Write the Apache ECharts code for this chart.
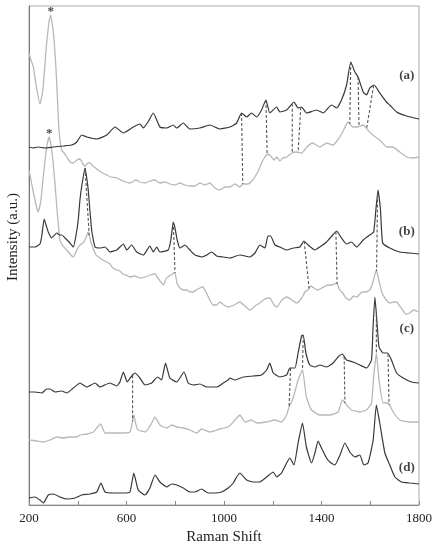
<!DOCTYPE html>
<html><head><meta charset="utf-8">
<script src="https://cdn.jsdelivr.net/npm/echarts@6/dist/echarts.min.js"></script>
<style>html,body{margin:0;padding:0;background:#fff}#c{width:443px;height:550px}</style>
</head><body><div id="c"></div>
<script>
// [Raman shift, intensity (a.u.)]
var traceADark = [[200,358],[216,357],[237,358],[266,357],[300,358],[341,359],[375,360],[396,363],[416,370],[437,368],[478,366],[519,370],[553,378],[587,372],[628,378],[655,381],[669,377],[688,383],[710,392],[737,378],[765,377],[792,380],[806,377],[833,382],[860,376],[901,377],[942,380],[983,376],[1024,378],[1052,382],[1072,392],[1093,388],[1113,392],[1134,388],[1154,395],[1172,405],[1188,392],[1216,398],[1229,393],[1257,395],[1287,403],[1304,397],[1318,398],[1339,392],[1380,395],[1407,392],[1441,400],[1462,397],[1482,405],[1503,420],[1520,443],[1537,433],[1550,428],[1571,413],[1585,410],[1598,417],[1616,420],[1639,412],[1666,403],[1680,400],[1708,393],[1749,389],[1800,386]];
var traceAGray = [[200,452],[208,445],[218,438],[229,420],[245,401],[257,415],[270,455],[282,483],[289,490],[296,480],[303,465],[311,435],[317,405],[323,375],[334,355],[344,352],[355,348],[368,343],[382,342],[396,345],[409,346],[421,341],[430,339],[442,342],[450,342],[462,339],[478,336],[495,333],[519,330],[536,328],[560,327],[585,324],[614,322],[639,325],[655,323],[676,322],[696,324],[717,325],[737,322],[758,323],[778,321],[799,320],[819,322],[840,320],[860,319],[881,319],[901,322],[922,320],[942,322],[963,317],[983,315],[1004,318],[1024,318],[1045,321],[1065,318],[1077,321],[1098,321],[1118,325],[1134,331],[1139,333],[1154,342],[1168,348],[1180,351],[1192,349],[1205,345],[1217,348],[1229,344],[1241,347],[1258,348],[1278,352],[1299,353],[1319,352],[1340,358],[1364,362],[1393,358],[1422,362],[1446,360],[1467,365],[1487,373],[1509,383],[1528,378],[1549,378],[1571,380],[1590,375],[1610,370],[1639,365],[1668,358],[1692,358],[1721,353],[1750,348],[1774,347],[1800,348]];
var traceBDark = [[200,258],[225,258],[245,261],[253,270],[262,286],[270,280],[279,273],[293,267],[314,272],[327,270],[334,270],[348,267],[368,262],[382,258],[393,270],[402,285],[409,305],[417,320],[430,337],[438,325],[443,315],[457,275],[471,258],[491,257],[512,258],[532,253],[560,255],[573,258],[587,261],[601,255],[621,260],[642,253],[669,250],[696,259],[710,253],[724,258],[737,253],[771,255],[782,265],[792,283],[799,277],[808,265],[819,257],[840,260],[860,255],[881,250],[908,248],[929,250],[949,253],[970,249],[997,248],[1024,247],[1065,250],[1106,248],[1127,252],[1147,260],[1168,257],[1180,269],[1191,269],[1209,260],[1229,258],[1257,255],[1284,257],[1311,258],[1328,264],[1345,260],[1373,255],[1393,258],[1421,263],[1446,270],[1462,274],[1482,267],[1503,261],[1523,263],[1544,258],[1571,265],[1598,270],[1614,273],[1623,295],[1632,315],[1642,295],[1651,262],[1680,257],[1721,253],[1762,252],[1800,251]];
var traceBGray = [[200,335],[208,325],[216,315],[229,300],[238,293],[249,305],[257,325],[266,345],[274,360],[283,368],[290,360],[298,345],[307,320],[315,295],[327,265],[339,259],[355,255],[368,251],[382,248],[396,255],[409,260],[421,262],[430,265],[443,273],[450,267],[458,260],[475,250],[491,247],[503,245],[519,243],[532,241],[544,237],[560,235],[573,234],[585,231],[598,230],[614,228],[635,229],[655,227],[676,228],[696,230],[717,231],[729,227],[741,223],[751,220],[762,226],[770,228],[782,230],[794,232],[799,232],[807,222],[819,217],[833,215],[848,215],[860,213],[873,213],[885,215],[901,217],[913,218],[926,213],[942,205],[954,200],[970,200],[983,203],[1000,200],[1017,198],[1041,200],[1065,203],[1086,199],[1106,195],[1127,199],[1147,202],[1168,206],[1188,207],[1205,200],[1217,198],[1237,205],[1258,208],[1278,205],[1299,202],[1319,207],[1332,213],[1344,215],[1356,219],[1369,217],[1385,215],[1401,217],[1426,220],[1442,220],[1462,222],[1475,215],[1487,212],[1500,207],[1516,205],[1532,209],[1545,208],[1557,211],[1569,213],[1582,213],[1598,215],[1610,222],[1625,235],[1635,225],[1647,213],[1660,207],[1680,202],[1696,203],[1709,203],[1721,199],[1733,195],[1746,191],[1762,192],[1778,195],[1800,193]];
var traceCDark = [[200,113],[225,113],[252,112],[273,116],[286,116],[307,113],[334,114],[355,112],[382,117],[409,122],[437,118],[471,122],[491,118],[532,122],[560,119],[573,123],[587,133],[603,123],[621,129],[635,132],[655,127],[676,120],[703,122],[728,128],[744,125],[760,142],[778,127],[806,123],[836,133],[853,122],[874,120],[901,121],[929,118],[970,118],[997,122],[1017,125],[1024,127],[1045,125],[1079,128],[1120,129],[1154,130],[1175,135],[1188,142],[1202,132],[1229,128],[1257,130],[1270,137],[1291,137],[1304,152],[1318,169],[1325,170],[1336,152],[1352,140],[1373,138],[1393,140],[1421,138],[1448,142],[1468,148],[1486,151],[1503,145],[1530,143],[1557,140],[1585,137],[1605,145],[1611,175],[1619,208],[1627,185],[1636,158],[1653,152],[1671,152],[1687,145],[1708,132],[1735,127],[1769,123],[1800,122]];
var traceCGray = [[200,65],[232,64],[259,63],[286,65],[314,68],[341,67],[368,68],[396,68],[409,70],[437,71],[464,73],[478,77],[494,81],[505,75],[512,72],[546,72],[587,72],[614,73],[622,80],[630,90],[639,80],[648,75],[676,73],[699,80],[717,88],[737,80],[765,77],[785,80],[806,78],[833,77],[860,75],[888,72],[908,76],[942,73],[983,76],[1017,78],[1038,83],[1052,87],[1065,90],[1086,83],[1113,85],[1134,82],[1175,83],[1209,85],[1236,83],[1257,90],[1267,98],[1284,107],[1304,125],[1322,135],[1338,108],[1359,95],[1393,90],[1434,90],[1468,93],[1486,105],[1503,100],[1523,95],[1557,93],[1585,95],[1605,102],[1614,128],[1625,152],[1636,125],[1653,102],[1673,102],[1694,93],[1721,85],[1762,83],[1800,83]];
var traceDDark = [[200,7],[225,8],[245,5],[259,2],[279,10],[300,11],[327,8],[355,6],[389,7],[416,10],[450,11],[478,13],[495,22],[512,13],[546,12],[587,12],[614,13],[630,32],[648,15],[676,10],[696,17],[717,30],[737,23],[765,18],[785,21],[806,20],[833,17],[860,13],[881,13],[908,16],[935,12],[963,12],[990,13],[1017,17],[1038,22],[1052,28],[1065,32],[1093,25],[1120,23],[1147,23],[1175,28],[1202,33],[1216,28],[1236,32],[1257,42],[1270,47],[1287,40],[1304,62],[1322,82],[1338,58],[1359,42],[1373,52],[1386,64],[1400,57],[1418,48],[1434,43],[1455,40],[1476,50],[1496,62],[1516,53],[1537,48],[1557,50],[1574,40],[1591,42],[1612,65],[1625,100],[1639,82],[1660,52],[1680,40],[1701,28],[1728,23],[1762,22],[1800,21]];

// matched bands [shift on dark trace, shift on gray trace]
var bandsA = [[1072,1077],[1172,1177],[1280,1280],[1315,1304],[1520,1516],[1550,1554],[1614,1585]];
var bandsB = [[430,447],[792,799],[1329,1349],[1459,1464],[1630,1626]];
var bandsC = [[625,625],[1273,1267],[1325,1322],[1493,1496],[1625,1625],[1673,1677]];

var asterisks = [[289,490],[283,368]];
var panelLabels = [['(a)',1750,429],['(b)',1750,273],['(c)',1750,176],['(d)',1750,37]];
var xTickLabels = [200,600,1000,1400,1800];

var serif = '"Liberation Serif","DejaVu Serif",serif';
var DARK = '#383838', GRAY = '#b8b8b8';

function interp(tr, x){
  for (var i=0;i<tr.length-1;i++){
    if (x>=tr[i][0] && x<=tr[i+1][0]){
      var t=(x-tr[i][0])/(tr[i+1][0]-tr[i][0]);
      return tr[i][1]+t*(tr[i+1][1]-tr[i][1]);
    }
  }
  return tr[tr.length-1][1];
}
function traceSeries(data,color,w){
  return {type:'line',data:data,showSymbol:false,symbol:'none',smooth:0.15,
    lineStyle:{color:color,width:w},silent:true,animation:false,z:2};
}
var series = [
  traceSeries(traceAGray,GRAY,1.3),
  traceSeries(traceBGray,GRAY,1.3),
  traceSeries(traceCGray,GRAY,1.3),
  traceSeries(traceADark,DARK,1.2),
  traceSeries(traceBDark,DARK,1.2),
  traceSeries(traceCDark,DARK,1.2),
  traceSeries(traceDDark,DARK,1.2)
];
function addBands(bands,dark,gray){
  bands.forEach(function(b){
    series.push({type:'line',showSymbol:false,symbol:'none',animation:false,z:3,
      data:[[b[0],interp(dark,b[0])],[b[1],interp(gray,b[1])]],
      lineStyle:{color:'#555',width:1.1,type:[3,2]}});
  });
}
addBands(bandsA,traceADark,traceAGray);
addBands(bandsB,traceBDark,traceBGray);
addBands(bandsC,traceCDark,traceCGray);

series.push({type:'scatter',data:asterisks,symbolSize:0,animation:false,
  label:{show:true,formatter:'*',position:'top',distance:-3,color:'#111',fontSize:13,fontWeight:'bold',fontFamily:serif}});
series.push({type:'scatter',symbolSize:0,animation:false,
  data:panelLabels.map(function(p){return {value:[p[1],p[2]],name:p[0]};}),
  label:{show:true,formatter:'{b}',position:'inside',color:'#111',fontSize:13,fontWeight:'bold',fontFamily:serif}});

var chart = echarts.init(document.getElementById('c'),null,{renderer:'canvas'});
chart.setOption({
  backgroundColor:'#fff',
  animation:false,
  grid:{left:29,right:24,top:6,bottom:45,show:true,borderColor:'#aaa',borderWidth:1},
  xAxis:{type:'value',min:200,max:1800,interval:200,
    name:'Raman Shift',nameLocation:'middle',nameGap:24,
    nameTextStyle:{fontFamily:serif,fontSize:15,color:'#222'},
    axisLine:{lineStyle:{color:'#888'}},
    axisTick:{inside:true,length:4,lineStyle:{color:'#888'}},
    splitLine:{show:false},
    axisLabel:{fontFamily:serif,fontSize:13,color:'#222',margin:7,
      formatter:function(v){return xTickLabels.indexOf(v)>=0?String(v):'';}}},
  yAxis:{type:'value',min:0,max:499,
    axisLine:{show:true,lineStyle:{color:'#777'}},
    axisTick:{show:false},axisLabel:{show:false},splitLine:{show:false}},
  graphic:[{type:'text',x:13,y:237,rotation:Math.PI/2,
    style:{text:'Intensity (a.u.)',fontFamily:serif,fontSize:15,fill:'#222',align:'center',verticalAlign:'middle'}}],
  series:series
});
</script></body></html>
